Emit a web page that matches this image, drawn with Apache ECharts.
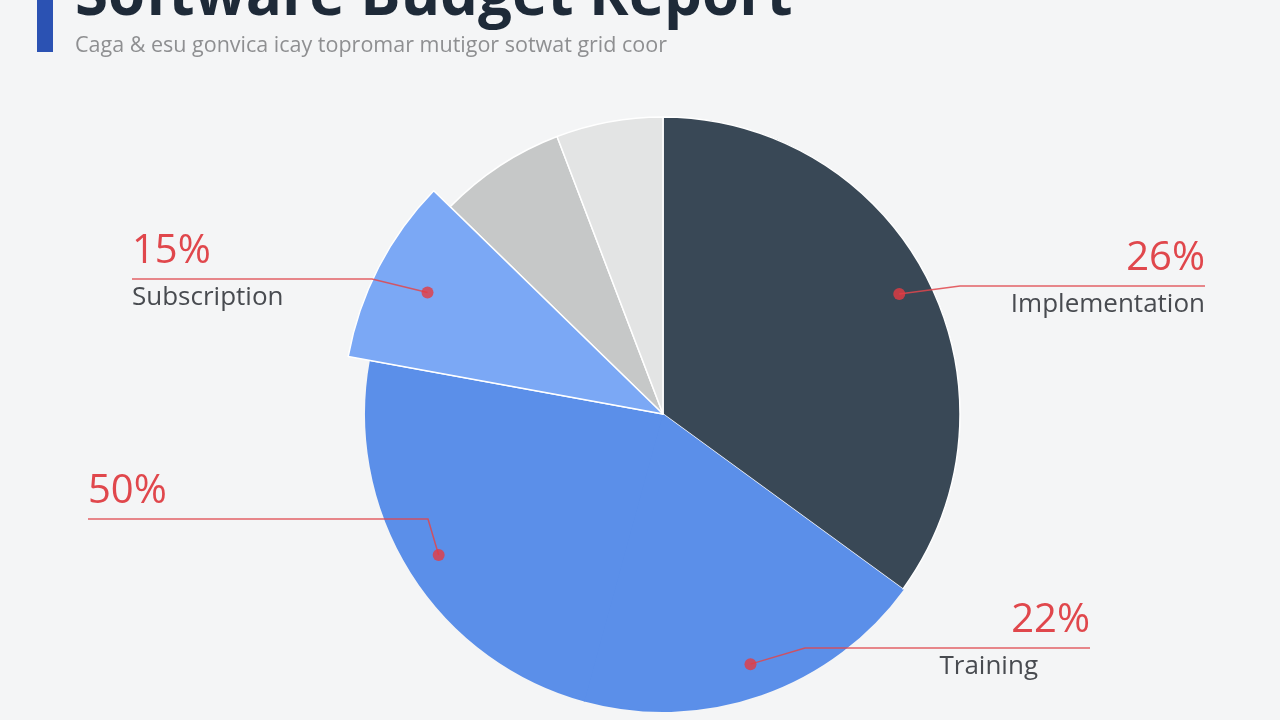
<!DOCTYPE html>
<html>
<head>
<meta charset="utf-8">
<script src="https://cdn.jsdelivr.net/npm/echarts@6/dist/echarts.min.js"></script>
<style>
  html, body { margin: 0; padding: 0; background: #f4f5f6; }
  #chart { width: 1280px; height: 720px; }
</style>
</head>
<body>
<div id="chart"></div>
<script>
// ---- data ----
const categories = ['Implementation', 'Training', 'Licenses', 'Subscription', 'Hardware', 'Support'];
const shares = [35.0, 19.2, 23.6, 9.4, 6.9, 5.8];
const percentLabels = ['26%', '22%', '50%', '15%', '', ''];
const shownNames = ['Implementation', 'Training', '', 'Subscription', '', ''];
const titleText = 'Software Budget Report';
const subtitleText = 'Caga & esu gonvica icay topromar mutigor sotwat grid coor';

// ---- styles / layout ----
const sliceColors = ['#394856', '#5b8fe9', '#5b8fe9', '#7ba8f5', '#c6c8c8', '#e3e4e4'];
const noBorder = [false, true, true, false, false, false];
const highlightIndex = 3; // enlarged slice
const RED = '#e0474c';
const CENTER = [663, 414];
const R = 297;
const R_BIG = 320;
const R_DOT = 265;

const labelCfg = {
  0: { side: 'right', edge: 1205, lineY: 286, elbowX: 960, nameStyle: 'n' },
  1: { side: 'right', edge: 1090, lineY: 648, elbowX: 805, nameStyle: 'nT' },
  2: { side: 'left',  edge: 88,   lineY: 519, elbowX: 428, nameStyle: 'n' },
  3: { side: 'left',  edge: 132,  lineY: 279, elbowX: 372, nameStyle: 'n' }
};

const total = shares.reduce((a, b) => a + b, 0);
const dotData = [];
let cum = 0;
shares.forEach((v, i) => {
  if (percentLabels[i]) dotData.push([1, cum + v / 2]);
  cum += v;
});

const baseData = categories.map((c, i) => ({
  name: c, value: shares[i],
  itemStyle: { color: sliceColors[i], borderColor: '#ffffff', borderWidth: noBorder[i] ? 0 : 1.5 }
}));
const underData = categories.map((c, i) => ({
  name: c, value: shares[i],
  itemStyle: noBorder[i]
    ? { color: sliceColors[i], borderColor: sliceColors[i], borderWidth: 2 }
    : { color: sliceColors[i], borderWidth: 0 }
}));
const bigData = categories.map((c, i) => ({
  name: c, value: shares[i],
  itemStyle: i === highlightIndex
    ? { color: sliceColors[i], borderColor: '#ffffff', borderWidth: 1.5 }
    : { color: 'rgba(0,0,0,0)', borderWidth: 0 }
}));
const labelData = categories.map((c, i) => ({
  name: c, value: shares[i],
  itemStyle: { color: 'rgba(0,0,0,0)', borderWidth: 0 },
  label: { show: !!percentLabels[i] },
  labelLine: { show: !!percentLabels[i] }
}));

const chart = echarts.init(document.getElementById('chart'));
chart.setOption({
  backgroundColor: '#f4f5f6',
  animation: false,
  title: [
    { text: titleText, left: 70, top: -37,
      textStyle: { fontSize: 60, fontWeight: 'bold', color: '#1e2a38', fontFamily: 'Open Sans' } },
    { text: subtitleText, left: 70, top: 30,
      textStyle: { fontSize: 21.5, fontWeight: 'normal', color: '#8e8f91', fontFamily: 'Open Sans' } }
  ],
  graphic: [
    { type: 'rect', shape: { x: 37, y: 0, width: 16, height: 52 }, style: { fill: '#2b52b3' } }
  ],
  polar: { center: CENTER, radius: R_DOT },
  angleAxis: {
    type: 'value', min: 0, max: total, startAngle: 90, clockwise: true,
    axisLine: { show: false }, axisTick: { show: false }, axisLabel: { show: false }, splitLine: { show: false }
  },
  radiusAxis: {
    type: 'value', min: 0, max: 1,
    axisLine: { show: false }, axisTick: { show: false }, axisLabel: { show: false }, splitLine: { show: false }
  },
  series: [
    { type: 'pie', center: CENTER, radius: R, silent: true, label: { show: false }, labelLine: { show: false },
      data: underData, z: 1 },
    { type: 'pie', center: CENTER, radius: R, silent: true, label: { show: false }, labelLine: { show: false },
      data: baseData, z: 2 },
    { type: 'pie', center: CENTER, radius: R_BIG, silent: true, label: { show: false }, labelLine: { show: false },
      data: bigData, z: 3 },
    { type: 'pie', center: CENTER, radius: R_DOT, silent: true, z: 5,
      avoidLabelOverlap: false,
      data: labelData,
      label: {
        position: 'outside',
        formatter: (p) => {
          const i = p.dataIndex;
          const cfg = labelCfg[i];
          const name = shownNames[i];
          return name ? `{p|${percentLabels[i]}}\n{${cfg.nameStyle}|${name}}` : `{p|${percentLabels[i]}}`;
        },
        rich: {
          p: { fontSize: 40, color: RED, fontFamily: 'Open Sans', lineHeight: 40 },
          n: { fontSize: 26, color: '#484b50', fontFamily: 'Open Sans', lineHeight: 52 },
          nT: { fontSize: 26, color: '#484b50', fontFamily: 'Open Sans', lineHeight: 52, padding: [0, 52, 0, 0] }
        }
      },
      labelLine: { show: true, length: 20, length2: 20, smooth: false, lineStyle: { color: RED, width: 1.5, opacity: 0.85 } },
      labelLayout: (params) => {
        const cfg = labelCfg[params.dataIndex];
        if (!cfg) return {};
        const out = {
          x: cfg.edge, y: cfg.lineY - 47,
          align: cfg.side === 'right' ? 'right' : 'left',
          verticalAlign: 'top'
        };
        if (params.labelLinePoints) {
          const s = params.labelLinePoints[0];
          out.labelLinePoints = [[s[0], s[1]], [cfg.elbowX, cfg.lineY], [cfg.edge, cfg.lineY]];
        }
        return out;
      }
    },
    { type: 'scatter', coordinateSystem: 'polar', silent: true, z: 6,
      symbol: 'circle', symbolSize: 12, itemStyle: { color: '#e53b42' }, data: dotData }
  ]
});
</script>
</body>
</html>
